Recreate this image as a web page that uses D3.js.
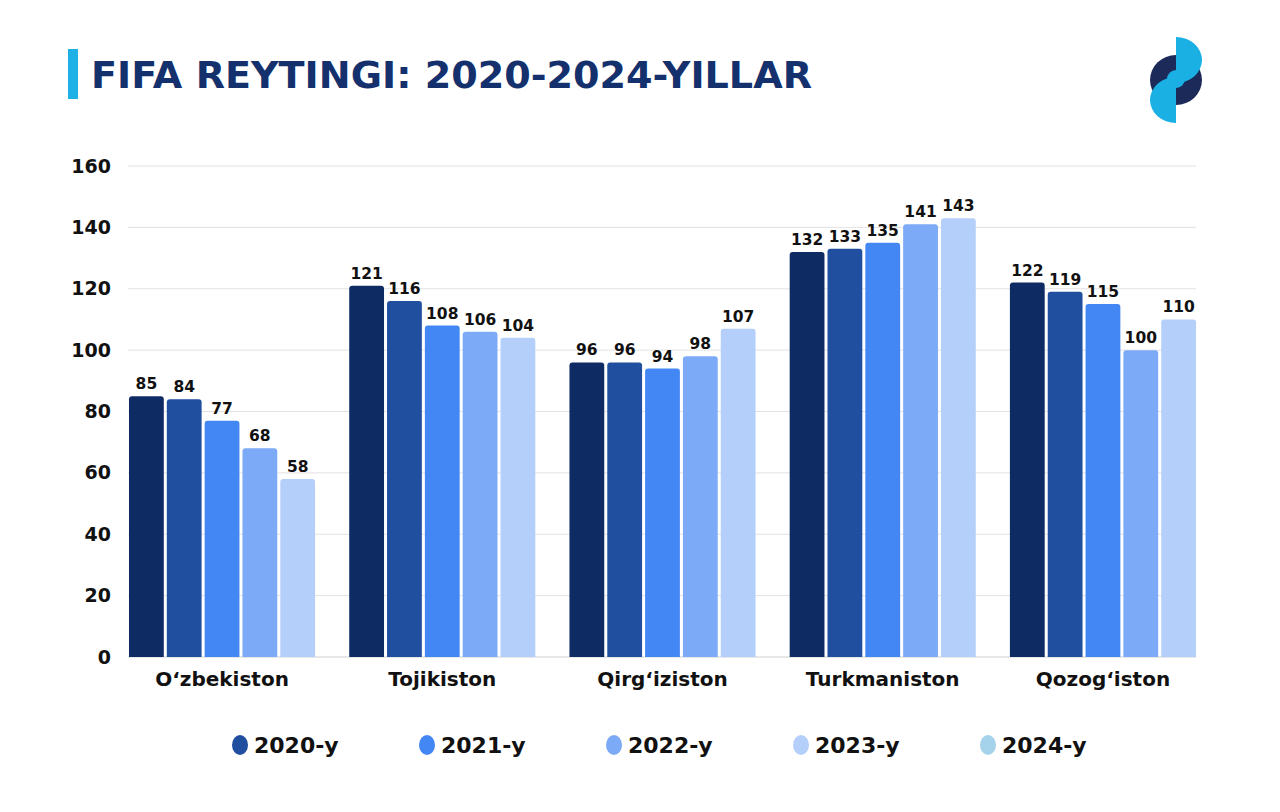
<!DOCTYPE html>
<html>
<head>
<meta charset="utf-8">
<script src="https://cdn.jsdelivr.net/npm/d3@7"></script>
<style>
  body { margin: 0; background: #fff; }
  text { font-family: "DejaVu Sans", sans-serif; font-weight: bold; }
</style>
</head>
<body>
<div id="chart"></div>
<script>
var countries = ["O‘zbekiston", "Tojikiston", "Qirg‘iziston", "Turkmaniston", "Qozog‘iston"];
var years = ["2020-y", "2021-y", "2022-y", "2023-y", "2024-y"];
var v2020 = [85, 121, 96, 132, 122];
var v2021 = [84, 116, 96, 133, 119];
var v2022 = [77, 108, 94, 135, 115];
var v2023 = [68, 106, 98, 141, 100];
var v2024 = [58, 104, 107, 143, 110];
var yTicks = [0, 20, 40, 60, 80, 100, 120, 140, 160];

var barColors = ["#0f2b63", "#1f4f9e", "#4387f4", "#7daaf6", "#b5cffb"];
var legendColors = ["#1f4f9e", "#4387f4", "#7daaf6", "#b5cffb", "#a6d3ec"];

var series = [v2020, v2021, v2022, v2023, v2024];

var svgWidth = 1280;
var svgHeight = 812;

var svg = d3.select("#chart")
  .append("svg")
  .attr("width", svgWidth)
  .attr("height", svgHeight);

// title + accent
svg.append("rect")
  .attr("x", 68).attr("y", 49)
  .attr("width", 10).attr("height", 50)
  .attr("fill", "#1db1e6");

var title = svg.append("text")
  .attr("x", 91).attr("y", 88)
  .attr("font-size", 38)
  .attr("fill", "#14316e")
  .text("FIFA REYTINGI: 2020-2024-YILLAR");
title.attr("textLength", 721).attr("lengthAdjust", "spacingAndGlyphs");

// logo: half discs stacked, dot in the middle
var logo = svg.append("g");
var cx = 1176, cy = 80;
function halfDisc(yc, rx, ry, side) {
  // side 1 = right half, 0 = left half
  return `M${cx},${yc - ry} A${rx},${ry} 0 0 ${side} ${cx},${yc + ry} Z`;
}
logo.append("path").attr("d", halfDisc(cy, 26, 25, 1)).attr("fill", "#1c2a5a");
logo.append("path").attr("d", halfDisc(cy - 20, 26, 23, 1)).attr("fill", "#1ab0e3");
logo.append("path").attr("d", halfDisc(cy, 26, 25, 0)).attr("fill", "#1c2a5a");
logo.append("path").attr("d", halfDisc(cy + 20, 26, 23, 0)).attr("fill", "#1ab0e3");
logo.append("circle")
  .attr("cx", cx).attr("cy", cy - 1).attr("r", 9)
  .attr("fill", "#1ab0e3");

// scales
var x0 = d3.scaleBand()
  .domain(countries)
  .range([129, 1196])
  .paddingInner(0.155)
  .paddingOuter(0);

var x1 = d3.scaleBand()
  .domain(years)
  .range([0, x0.bandwidth()])
  .paddingInner(0.08);

var y = d3.scaleLinear()
  .domain([0, 160])
  .range([657, 166]);

// grid
svg.append("g")
  .selectAll("line")
  .data(yTicks)
  .enter()
  .append("line")
  .attr("x1", 128).attr("x2", 1196)
  .attr("y1", d => y(d)).attr("y2", d => y(d))
  .attr("stroke", d => d === 0 ? "#cfcfcf" : "#e2e2e2")
  .attr("stroke-width", 1);

// y labels
var left_axis = d3.axisLeft(y).tickValues(yTicks).tickSize(0).tickPadding(0);
var yAxis = svg.append("g").attr("transform", "translate(111,0)").call(left_axis);
yAxis.select(".domain").remove();
yAxis.selectAll("text")
  .attr("font-size", 19)
  .attr("fill", "#111")
  .attr("font-family", "DejaVu Sans")
  .attr("font-weight", "bold");

// bars
function barPath(x, yTop, w, h, r) {
  var p = d3.path();
  p.moveTo(x, yTop + h);
  p.lineTo(x, yTop + r);
  p.quadraticCurveTo(x, yTop, x + r, yTop);
  p.lineTo(x + w - r, yTop);
  p.quadraticCurveTo(x + w, yTop, x + w, yTop + r);
  p.lineTo(x + w, yTop + h);
  p.closePath();
  return p.toString();
}

var rows = [];
countries.forEach(function(c, i) {
  years.forEach(function(yr, j) {
    rows.push({country: c, year: yr, value: series[j][i], k: j});
  });
});

var bars = svg.append("g");
bars.selectAll("path")
  .data(rows)
  .enter()
  .append("path")
  .attr("d", d => barPath(x0(d.country) + x1(d.year), y(d.value), x1.bandwidth(), y(0) - y(d.value), 3))
  .attr("fill", d => barColors[d.k]);

bars.selectAll("text")
  .data(rows)
  .enter()
  .append("text")
  .attr("x", d => x0(d.country) + x1(d.year) + x1.bandwidth() / 2)
  .attr("y", d => y(d.value) - 7)
  .attr("text-anchor", "middle")
  .attr("font-size", 15.5)
  .attr("fill", "#111")
  .text(d => d.value);

// category labels
svg.append("g")
  .selectAll("text")
  .data(countries)
  .enter()
  .append("text")
  .attr("x", d => x0(d) + x0.bandwidth() / 2)
  .attr("y", 686)
  .attr("text-anchor", "middle")
  .attr("font-size", 20)
  .attr("fill", "#111")
  .text(d => d);

// legend
var legendX = [240, 427, 614, 801, 988];
var legend = svg.append("g")
  .selectAll("g")
  .data(years)
  .enter()
  .append("g")
  .attr("transform", (d, i) => `translate(${legendX[i]}, 745)`);

legend.append("ellipse")
  .attr("rx", 8).attr("ry", 10)
  .attr("fill", (d, i) => legendColors[i]);

legend.append("text")
  .attr("x", 14)
  .attr("y", 8)
  .attr("font-size", 22)
  .attr("fill", "#111")
  .text(d => d);
</script>
</body>
</html>
